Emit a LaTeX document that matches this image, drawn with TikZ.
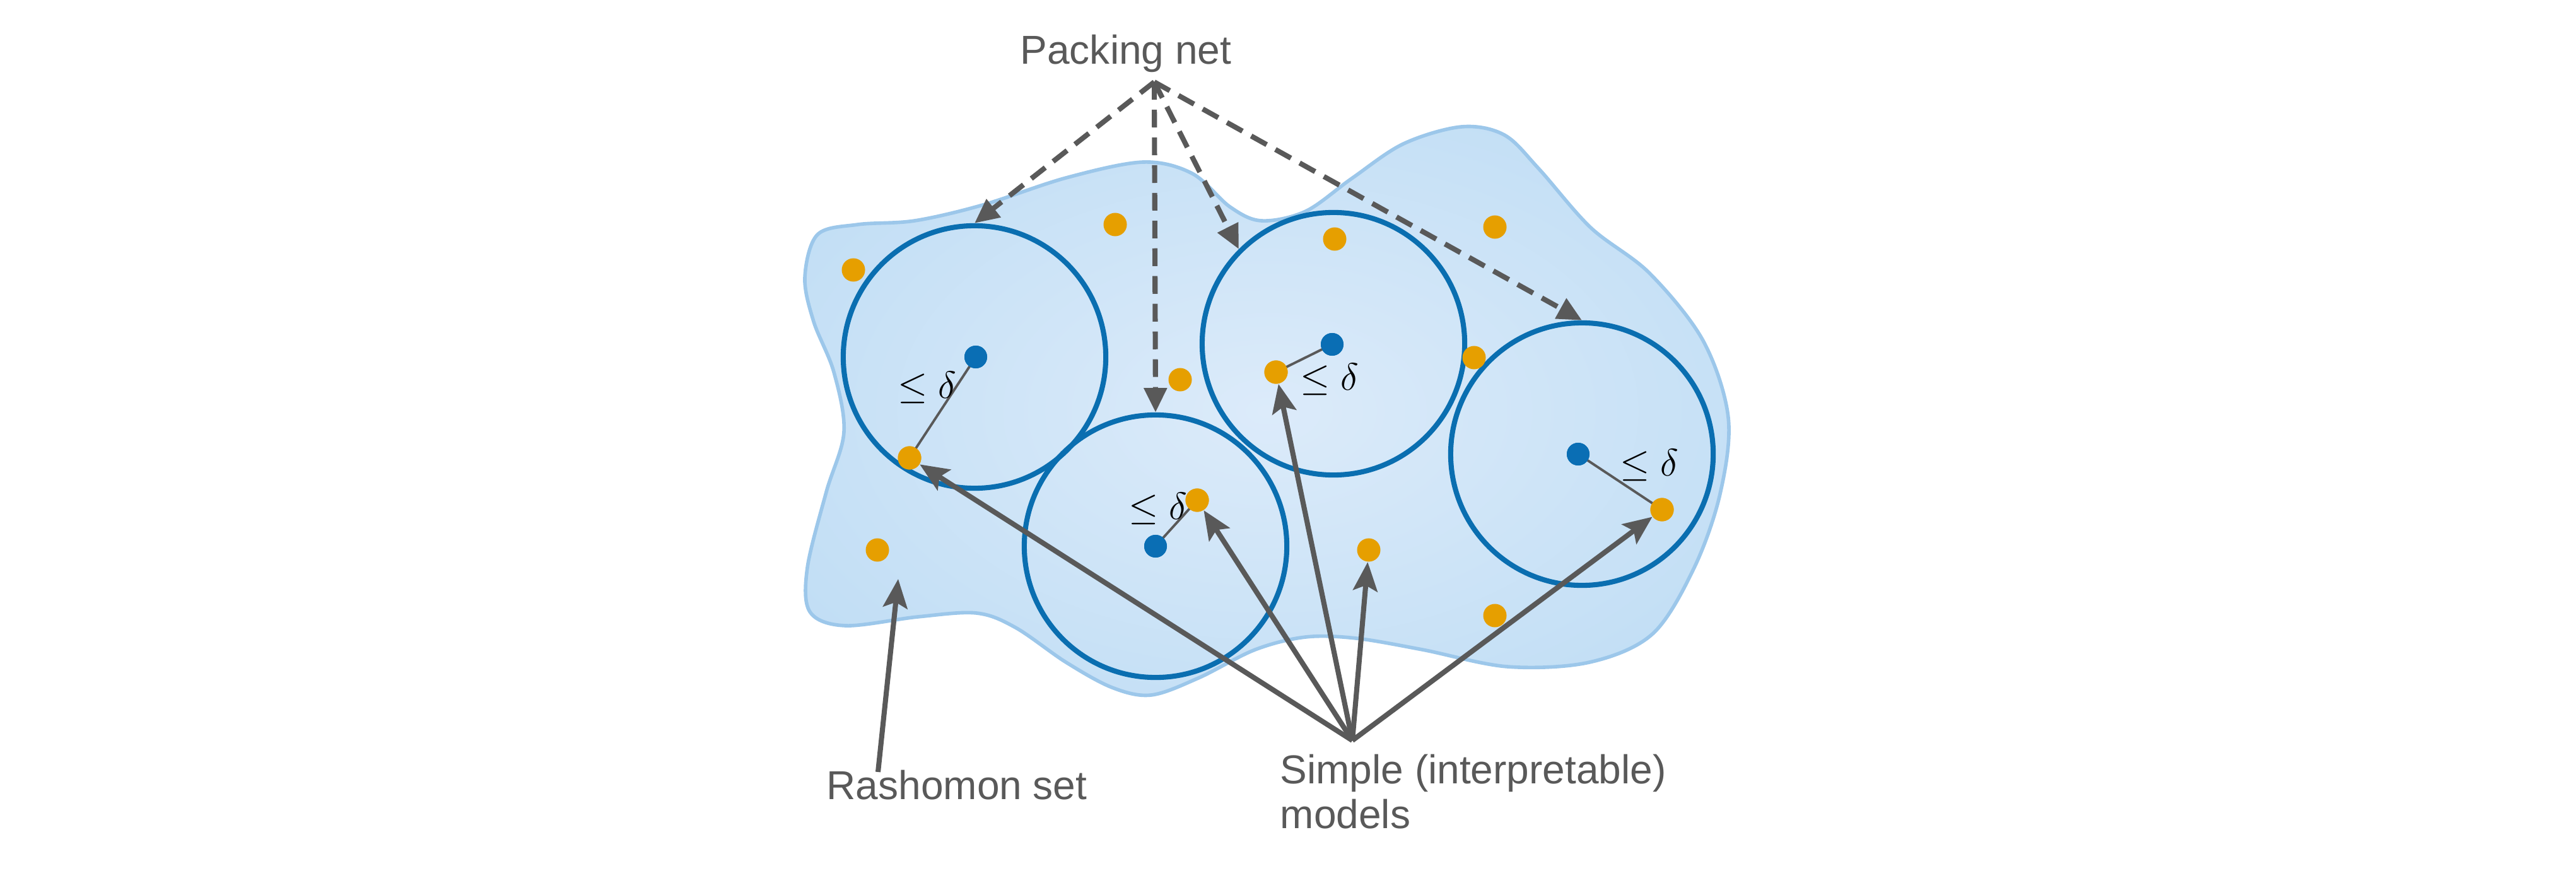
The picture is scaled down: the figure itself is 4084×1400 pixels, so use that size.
\documentclass[tikz,border=0pt]{standalone}
\usepackage{fontspec}
\setmainfont{Liberation Sans}
\usetikzlibrary{arrows.meta}
\definecolor{blobfill}{HTML}{B9DAF3}
\definecolor{blobin}{HTML}{DCEBFA}
\definecolor{blobedge}{HTML}{9CC7EA}
\definecolor{ringblue}{HTML}{0A6EB0}
\definecolor{dotblue}{HTML}{0A6EB4}
\definecolor{dotorange}{HTML}{E69F00}
\definecolor{arrgray}{HTML}{595959}
\pgfdeclareradialshading{blobshade}{\pgfpoint{0bp}{0bp}}{color(0bp)=(blobin); color(18bp)=(blobin!55!blobfill); color(40bp)=(blobfill); color(70bp)=(blobfill)}
\begin{document}
\begin{tikzpicture}[x=0.01cm,y=-0.01cm,
  ring/.style={circle,draw=ringblue,line width=2.3pt,minimum size=4.16cm,inner sep=0pt},
  bdot/.style={circle,fill=dotblue,minimum size=0.36cm,inner sep=0pt},
  odot/.style={circle,fill=dotorange,minimum size=0.37cm,inner sep=0pt},
  dlab/.style={font=\fontsize{16.5}{18}\selectfont,inner sep=0pt},
  lab/.style={text=arrgray,font=\fontsize{18.2}{20.2}\selectfont,inner sep=0pt},
  dline/.style={draw=arrgray,line width=1.1pt},
  pack/.style={draw=arrgray,line width=2.3pt,dash pattern=on 8pt off 4.5pt,-{Triangle[length=11pt,width=10pt]}},
  sarrow/.style={draw=arrgray,line width=2.3pt,-{Stealth[length=13pt,width=11pt,inset=2.5pt]}}
]
\useasboundingbox (0,0) rectangle (4084,1400);

% Rashomon set (blob)
\shadedraw[shading=blobshade,draw=blobedge,line width=1.6pt]
  plot[smooth cycle,tension=0.55] coordinates {
  (1276,440) (1296,372) (1360,356) (1450,350) (1558,325) (1690,282) (1812,257)
  (1890,275) (1950,328) (2000,350) (2070,335) (2143,283) (2225,228) (2317,201)
  (2385,214) (2440,268) (2522,361) (2615,433) (2700,540) (2740,662) (2727,783)
  (2686,900) (2620,1005) (2520,1050) (2390,1057) (2255,1030) (2150,1012) (2070,1010)
  (1990,1030) (1900,1075) (1825,1102) (1763,1090) (1690,1050) (1610,995)
  (1548,972) (1455,978) (1340,992) (1284,970) (1280,900) (1310,780) (1338,685)
  (1322,590) (1290,510)};

% packing balls
\node[ring] (c1) at (1545,566) {};
\node[ring] (c2) at (1832,866) {};
\node[ring] (c3) at (2114,545) {};
\node[ring] (c4) at (2508,720) {};

% centres
\node[bdot] (b1) at (1547,566) {};
\node[bdot] (b2) at (1832,866) {};
\node[bdot] (b3) at (2112,546) {};
\node[bdot] (b4) at (2502,720) {};

% models
\node[odot] (o1) at (1353,428) {};
\node[odot] (o2) at (1768,356) {};
\node[odot] (o3) at (2116,379) {};
\node[odot] (o4) at (2370,360) {};
\node[odot] (o5) at (1871,602) {};
\node[odot] (o6) at (2023,590) {};
\node[odot] (o7) at (2337,567) {};
\node[odot] (o8) at (1442,726) {};
\node[odot] (o9) at (1898,793) {};
\node[odot] (o10) at (2635,808) {};
\node[odot] (o11) at (1391,872) {};
\node[odot] (o12) at (2170,872) {};
\node[odot] (o13) at (2370,976) {};

% distance links
\draw[dline] (b1.center) -- (o8.center);
\draw[dline] (b2.center) -- (o9.center);
\draw[dline] (b3.center) -- (o6.center);
\draw[dline] (b4.center) -- (o10.center);
\node[bdot] at (b1) {};
\node[bdot] at (b2) {};
\node[bdot] at (b3) {};
\node[bdot] at (b4) {};
\node[odot] at (o8) {};
\node[odot] at (o9) {};
\node[odot] at (o6) {};
\node[odot] at (o10) {};

\node[dlab] (d1) at (1470,615) {$\leq\delta$};
\node[dlab] (d2) at (1836,807) {$\leq\delta$};
\node[dlab] (d3) at (2108,602) {$\leq\delta$};
\node[dlab] (d4) at (2615,738) {$\leq\delta$};

% labels
\node[lab,anchor=base west] (pack) at (1617,102) {Packing net};
\node[lab,anchor=base west] (rash) at (1310,1267) {Rashomon set};
\node[lab,anchor=base west] (simple) at (2029,1242) {Simple (interpretable)};
\node[lab,anchor=base west] (simple2) at (2029,1313) {models};

\coordinate (ps) at (1830,130);
\coordinate (ss) at (2144,1174);
\coordinate (rs) at (1392,1224);
\coordinate (rt) at (1424,918);

% packing net arrows
\draw[pack] (ps) -- (c1.north);
\draw[pack] (ps) -- (c2.north);
\draw[pack] (ps) -- (c3.north west);
\draw[pack] (ps) -- (c4.north);

% simple model arrows
\draw[sarrow] (ss) -- (o8);
\draw[sarrow] (ss) -- (o9);
\draw[sarrow] (ss) -- (o6);
\draw[sarrow] (ss) -- (o12);
\draw[sarrow] (ss) -- (o10);

% rashomon arrow
\draw[sarrow] (rs) -- (rt);
\end{tikzpicture}
\end{document}
